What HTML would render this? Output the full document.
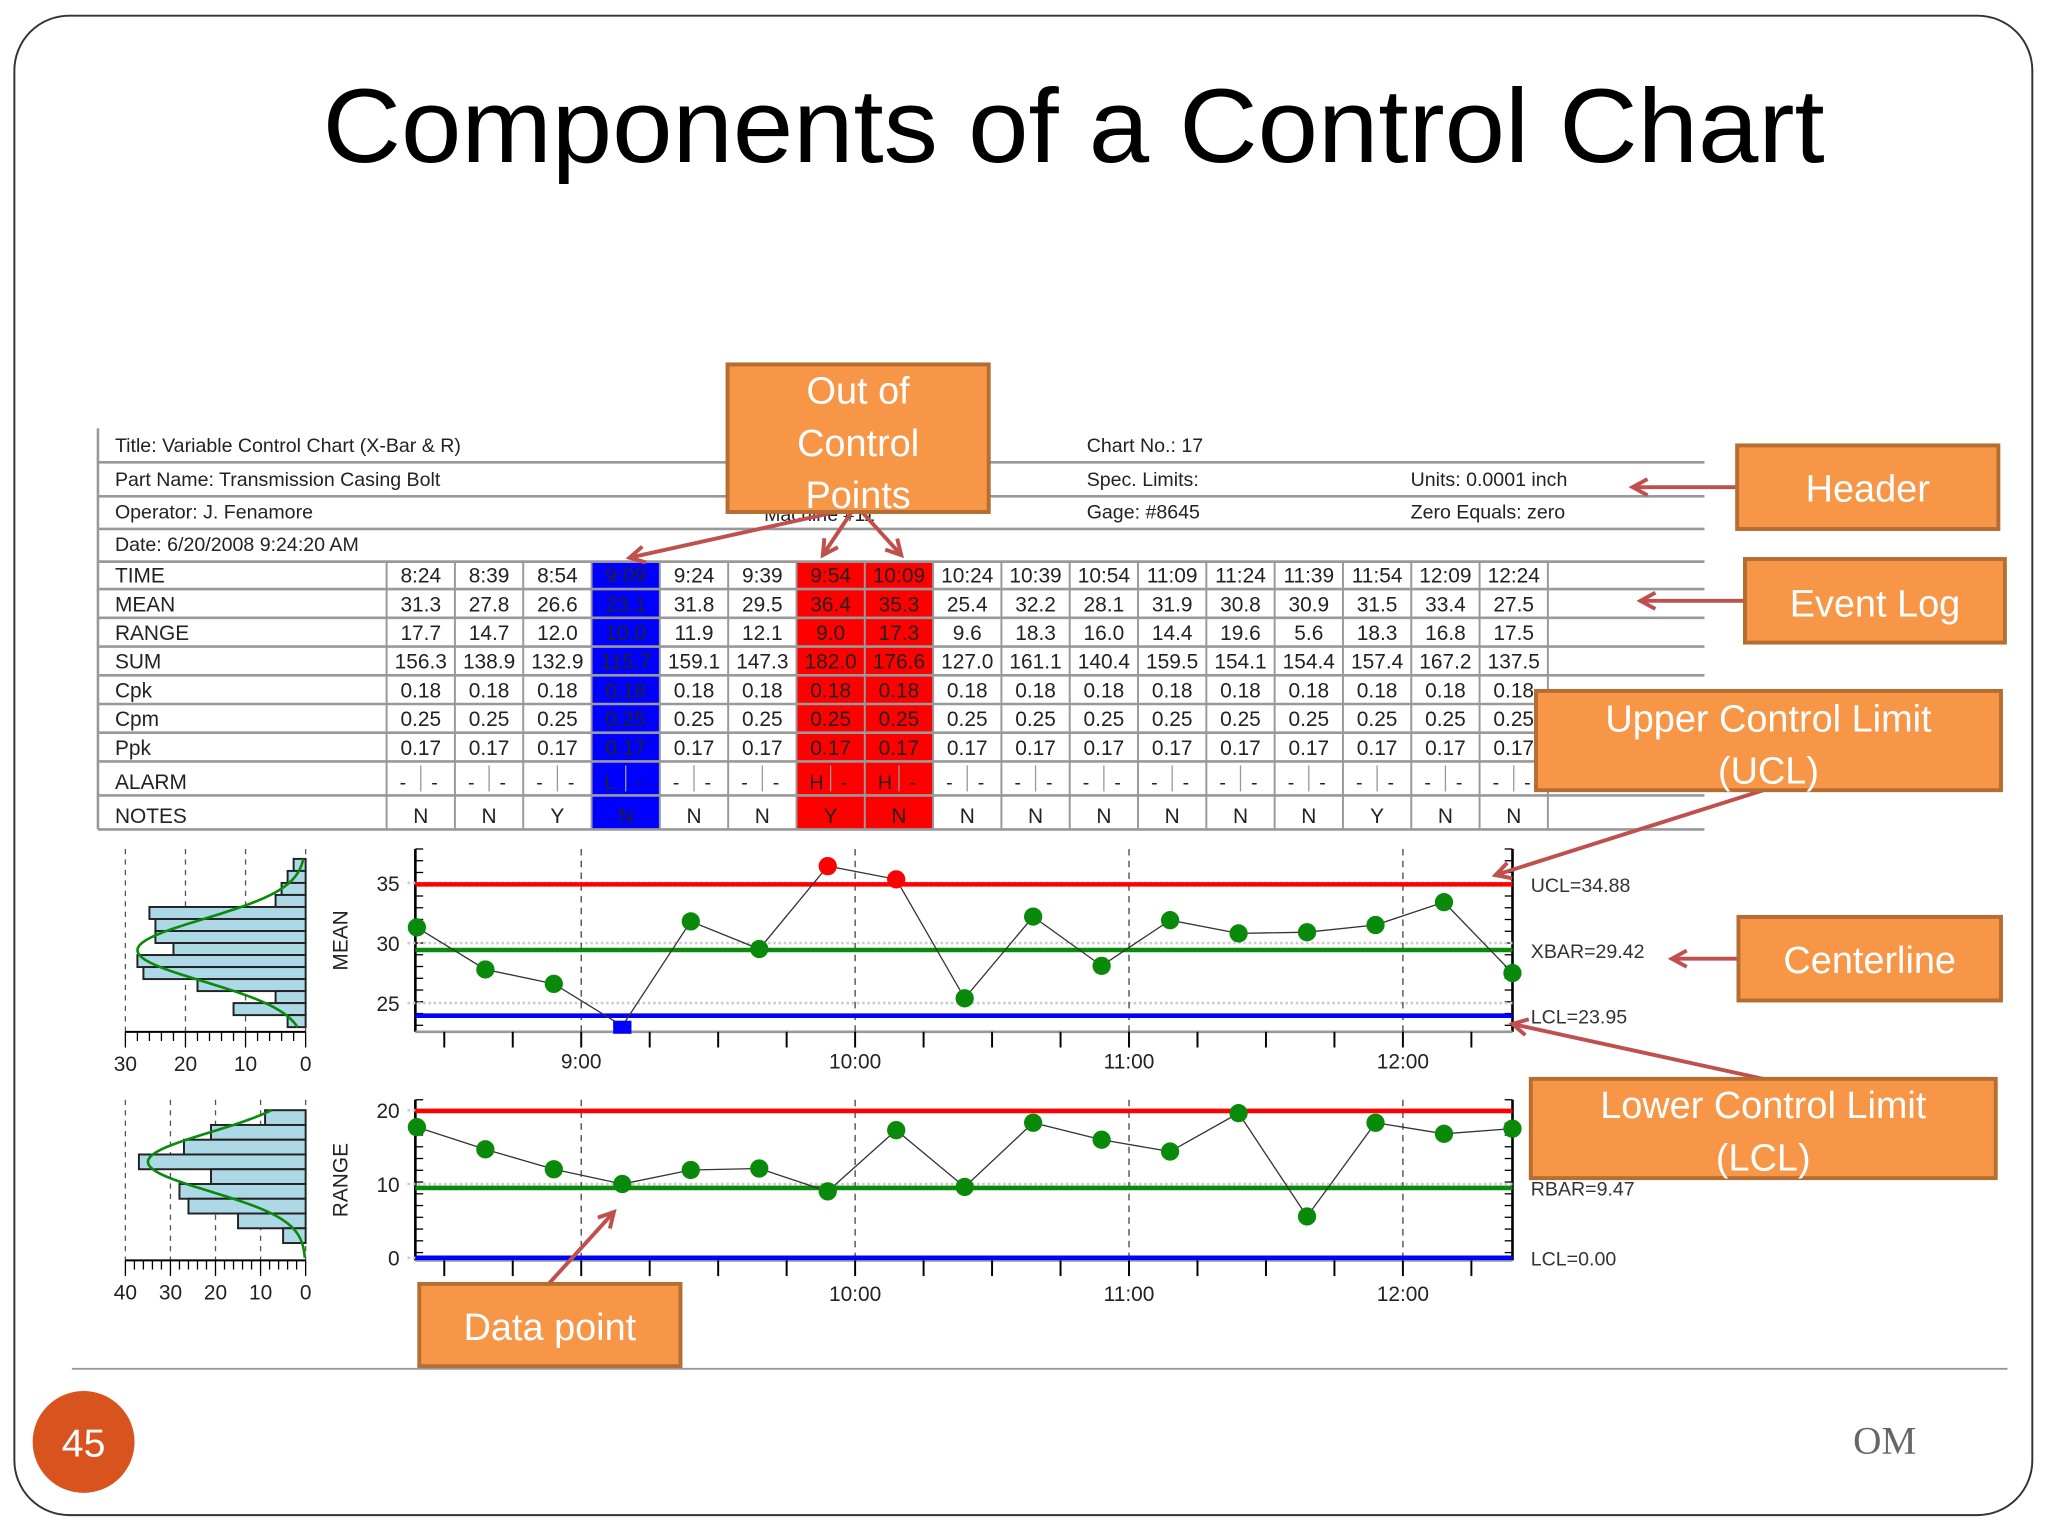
<!DOCTYPE html>
<html><head><meta charset="utf-8"><style>
html,body{margin:0;padding:0;background:#fff;}
svg{display:block;}
text{font-family:"Liberation Sans",sans-serif;}
</style></head><body>
<svg id="s" width="2048" height="1536" viewBox="0 0 1568 1176" xmlns="http://www.w3.org/2000/svg">
<rect x="11" y="12" width="1545" height="1148" rx="42" fill="#fff" stroke="#333" stroke-width="1.5"/>
<text x="822" y="124" font-size="80" text-anchor="middle" fill="#000" textLength="1150" lengthAdjust="spacingAndGlyphs">Components of a Control Chart</text>
<g id="tbl"></g>
<g id="ch"></g>
<g id="call"></g>
<line x1="55" y1="1048" x2="1537" y2="1048" stroke="#999" stroke-width="1.5"/>
<circle cx="64" cy="1104" r="39" fill="#d9531e"/>
<text x="64" y="1115" font-size="30" fill="#fff" text-anchor="middle">45</text>
<text x="1443" y="1113" font-size="30" fill="#666" text-anchor="middle" style="font-family:'Liberation Serif',serif">OM</text>
</svg>
<script>
const times=["8:24","8:39","8:54","9:09","9:24","9:39","9:54","10:09","10:24","10:39","10:54","11:09","11:24","11:39","11:54","12:09","12:24"];
const means=[31.3,27.8,26.6,23.1,31.8,29.5,36.4,35.3,25.4,32.2,28.1,31.9,30.8,30.9,31.5,33.4,27.5];
const ranges=[17.7,14.7,12.0,10.0,11.9,12.1,9.0,17.3,9.6,18.3,16.0,14.4,19.6,5.6,18.3,16.8,17.5];
const sums=[156.3,138.9,132.9,115.7,159.1,147.3,182.0,176.6,127.0,161.1,140.4,159.5,154.1,154.4,157.4,167.2,137.5];
const notes=["N","N","Y","N","N","N","Y","N","N","N","N","N","N","N","Y","N","N"];
const alarms=["-","-","-","L","-","-","H","H","-","-","-","-","-","-","-","-","-"];
const minutes=[24,39,54,69,84,99,114,129,144,159,174,189,204,219,234,249,264];
const ucl=34.88, xbar=29.42, lcl=23.95, rucl=19.9, rbar=9.47, rlcl=0;
const meanTicks=[25,30,35], rangeTicks=[0,10,20];
const hourTicks=[60,120,180,240], hourLabels=["9:00","10:00","11:00","12:00"];
const meanHistBins=[36.5,35.5,34.5,33.5,32.5,31.5,30.5,29.5,28.5,27.5,26.5,25.5,24.5,23.5];
const meanHistCounts=[2,3,4,5,26,25,25,22,28,27,18,5,12,3];
const rangeHistBins=[19,17,15,13,11,9,7,5,3,1];
const rangeHistCounts=[9,21,27,37,21,28,26,15,5,0];

const NS="http://www.w3.org/2000/svg";
function el(p,t,a,txt){const e=document.createElementNS(NS,t);for(const k in a)e.setAttribute(k,a[k]);if(txt!==undefined)e.textContent=txt;p.appendChild(e);return e;}

const T=document.getElementById('tbl');
const L=75,R=1305,colX0=296,cw=52.3;
const hdr=[[328,354,"Title: Variable Control Chart (X-Bar & R)","Chart No.: 17",""],[354,380,"Part Name: Transmission Casing Bolt","Spec. Limits:","Units: 0.0001 inch"],[380,405,"Operator: J. Fenamore","Gage: #8645","Zero Equals: zero"],[405,430,"Date: 6/20/2008 9:24:20 AM","",""]];
hdr.forEach((h,i)=>{
  const t=el(T,'text',{x:88,y:h[1]-8,'font-size':15,fill:'#222'},h[2]);
  
  
  if(h[3]){const a=el(T,'text',{x:832,y:h[1]-8,'font-size':15,fill:'#222'},h[3]);}
  if(h[4]){const b=el(T,'text',{x:1080,y:h[1]-8,'font-size':15,fill:'#222'},h[4]);}
  el(T,'line',{x1:L,y1:h[1],x2:R,y2:h[1],stroke:'#999','stroke-width':2});
});
el(T,'text',{x:585,y:399,'font-size':15,fill:'#222'},"Machine #11");
const rowsY=[430,451,473,495,517,539,561,583,609,635];
const rowNames=["TIME","MEAN","RANGE","SUM","Cpk","Cpm","Ppk","ALARM","NOTES"];
const colColor=i=>i===3?'#0000ff':(i===6||i===7)?'#ff0000':null;
for(let i=0;i<17;i++){const c=colColor(i);if(c){const r=el(T,'rect',{x:colX0+i*cw,y:430,width:cw,height:205,fill:c});}}
el(T,'line',{x1:L,y1:328,x2:L,y2:635,stroke:'#999','stroke-width':2});
rowsY.forEach(y=>el(T,'line',{x1:L,y1:y,x2:R,y2:y,stroke:'#999','stroke-width':2}));
for(let i=0;i<=17;i++)el(T,'line',{x1:colX0+i*cw,y1:430,x2:colX0+i*cw,y2:635,stroke:'#999','stroke-width':1.5});
const vals=[times,means.map(v=>v.toFixed(1)),ranges.map(v=>v.toFixed(1)),sums.map(v=>v.toFixed(1)),Array(17).fill("0.18"),Array(17).fill("0.25"),Array(17).fill("0.17"),null,notes];
rowNames.forEach((n,r)=>{
  const yb=rowsY[r+1]-5;
  const lb=el(T,'text',{x:88,y:yb,'font-size':16,fill:'#222'},n);
  
  
  for(let i=0;i<17;i++){
    const cx=colX0+i*cw;
    const fc='#222';
    if(r===7){
      el(T,'line',{x1:cx+cw/2,y1:rowsY[7]+3,x2:cx+cw/2,y2:rowsY[8]-3,stroke:'#999'});
      el(T,'text',{x:cx+10,y:yb,'font-size':15,fill:fc},alarms[i]);
      el(T,'text',{x:cx+cw/2+8,y:yb,'font-size':15,fill:fc},"-");
    }else{
      const t=el(T,'text',{x:cx+cw/2,y:yb,'font-size':16,fill:fc,'text-anchor':'middle'},vals[r][i]);
      
      
    }
  }
});

const C=document.getElementById('ch');
const X0=318,X1=1158;
const xT=m=>445+(m-60)*209.7/60;
const yM=v=>676+(35-v)*9.2;
const yR=v=>963-v*5.65;
function chart(yf,top,bot,ticks,lims,data,outFn,lbl,showHourLabels,labY,limLabels){
  el(C,'line',{x1:X0,y1:top,x2:X0,y2:bot,stroke:'#000','stroke-width':2});
  el(C,'line',{x1:X1,y1:top,x2:X1,y2:bot,stroke:'#000','stroke-width':2});
  el(C,'line',{x1:X0,y1:bot,x2:X1,y2:bot,stroke:'#999','stroke-width':2});
  for(let y=top;y<=bot;y+=9){el(C,'line',{x1:X0,y1:y,x2:X0+6,y2:y,stroke:'#000'});el(C,'line',{x1:X1-6,y1:y,x2:X1,y2:y,stroke:'#000'});}
  ticks.forEach(t=>{el(C,'line',{x1:X0-6,y1:yf(t),x2:X1,y2:yf(t),stroke:'#ccc','stroke-width':2,'stroke-dasharray':'2 2'});
    const tl=el(C,'text',{x:X0-12,y:yf(t)+6,'font-size':16,'text-anchor':'end',fill:'#222'},t);
    
    });
  hourTicks.forEach((m,i)=>{el(C,'line',{x1:xT(m),y1:top,x2:xT(m),y2:bot+10,stroke:'#444','stroke-dasharray':'5 4'});
    if(showHourLabels[i]){const hl=el(C,'text',{x:xT(m),y:labY,'font-size':16,'text-anchor':'middle',fill:'#222'},hourLabels[i]);}});
  for(let m=30;m<=270;m+=15)if(xT(m)>X0&&xT(m)<X1)el(C,'line',{x1:xT(m),y1:bot,x2:xT(m),y2:bot+12,stroke:'#000','stroke-width':1.5});
  const cols=['#ff0000','#0a8a0a','#0000ff'];
  lims.forEach((v,i)=>{const ln=el(C,'line',{x1:X0,y1:yf(v),x2:X1,y2:yf(v),stroke:cols[i],'stroke-width':3.5});
    
    
    if(limLabels[i]){const tx=el(C,'text',{x:X1+14,y:yf(v)+6,'font-size':15,fill:'#333'},limLabels[i]);}});
  const ax=el(C,'text',{x:0,y:0,'font-size':16,'text-anchor':'middle',fill:'#222',transform:`translate(266,${(top+bot)/2}) rotate(-90)`},lbl);
  
  
  el(C,'polyline',{points:data.map((v,i)=>xT(minutes[i])+','+yf(v)).join(' '),fill:'none',stroke:'#333','stroke-width':1});
  data.forEach((v,i)=>{const o=outFn(v);
    let p;
    if(o==='low'){p=el(C,'rect',{x:xT(minutes[i])-7,y:yf(v)-4,width:14,height:10,fill:'#0000ff'});}
    else p=el(C,'circle',{cx:xT(minutes[i]),cy:yf(v),r:7,fill:o==='high'?'#ff0000':'#0a8a0a'});
    
    });
}
chart(yM,650,790,meanTicks,[ucl,xbar,lcl],means,v=>v>ucl?'high':v<lcl?'low':'ok','MEAN',[1,1,1,1],818,["UCL=34.88","XBAR=29.42","LCL=23.95"]);
chart(yR,842,965,rangeTicks,[rucl,rbar,rlcl],ranges,v=>v>rucl?'high':'ok','RANGE',[0,1,1,1],996,["","RBAR=9.47","LCL=0.00"]);

function hist(top,bot,maxC,ticks,bins,counts,yf,binH,mu,sg,pk){
  const hx=c=>234-c*138/maxC;
  ticks.forEach(t=>{el(C,'line',{x1:hx(t),y1:top,x2:hx(t),y2:bot,stroke:'#555','stroke-dasharray':'4 4'});
    const tl=el(C,'text',{x:hx(t),y:bot+30,'font-size':16,'text-anchor':'middle',fill:'#222'},t);});
  el(C,'line',{x1:96,y1:bot,x2:234,y2:bot,stroke:'#000','stroke-width':1.5});
  for(let c=0;c<=maxC;c+=2)el(C,'line',{x1:hx(c),y1:bot,x2:hx(c),y2:bot+(c%10===0?12:7),stroke:'#000'});
  bins.forEach((b,i)=>{const h=Math.abs(yf(b+binH/2)-yf(b-binH/2));
    const r=el(C,'rect',{x:hx(counts[i]),y:yf(b+binH/2),width:234-hx(counts[i]),height:h,fill:'#add8e6',stroke:'#222','stroke-width':1.5});
    
    });
  let pts=[];for(let k=0;k<=60;k++){const v=bins[bins.length-1]-binH/2+k*(bins[0]-bins[bins.length-1]+binH)/60;pts.push(hx(pk*Math.exp(-((v-mu)**2)/(2*sg*sg)))+','+yf(v));}
  el(C,'polyline',{points:pts.join(' '),fill:'none',stroke:'#0a8a0a','stroke-width':2});
}
hist(650,790,30,[30,20,10,0],meanHistBins,meanHistCounts,yM,1,29.4,2.6,28);
hist(842,965,40,[40,30,20,10,0],rangeHistBins,rangeHistCounts,yR,2,13,4,35);

const K=document.getElementById('call');
function arrow(x1,y1,x2,y2){el(K,'line',{x1,y1,x2,y2,stroke:'#c0504d','stroke-width':3});
  const a=Math.atan2(y2-y1,x2-x1),s=13;
  el(K,'polyline',{points:`${x2-s*Math.cos(a-0.5)},${y2-s*Math.sin(a-0.5)} ${x2},${y2} ${x2-s*Math.cos(a+0.5)},${y2-s*Math.sin(a+0.5)}`,fill:'none',stroke:'#c0504d','stroke-width':3});}
function box(name,x,y,w,h,lines,ty){const g=el(K,'g',{});
  el(g,'rect',{x,y,width:w,height:h,fill:'#f79646',stroke:'#b66d31','stroke-width':3});
  lines.forEach((t,i)=>el(g,'text',{x:x+w/2,y:ty+i*40,'font-size':29,fill:'#fff','text-anchor':'middle'},t));}
arrow(640,392,482,427);arrow(652,392,630,425);arrow(660,392,690,425);
box('out-of-control-callout',557,279,200,113,["Out of","Control","Points"],309);
arrow(1330,373,1250,373);box('header-callout',1330,341,200,64,["Header"],384);
arrow(1336,460,1256,460);box('event-log-callout',1336,428,199,64,["Event Log"],472);
arrow(1350,605,1145,670);box('ucl-callout',1176,529,356,76,["Upper Control Limit","(UCL)"],560);
arrow(1331,734,1280,734);box('centerline-callout',1331,702,201,64,["Centerline"],745);
arrow(1350,826,1158,784);box('lcl-callout',1172,826,356,76,["Lower Control Limit","(LCL)"],856);
arrow(420,983,470,928);box('data-point-callout',321,983,200,63,["Data point"],1026);
</script>
</body></html>
